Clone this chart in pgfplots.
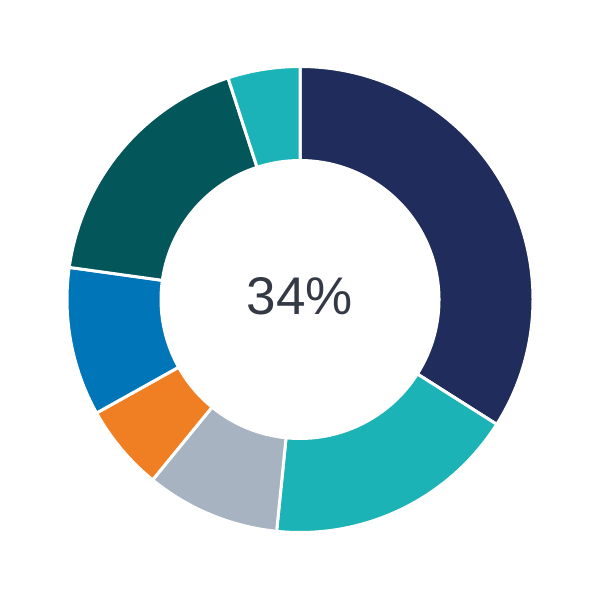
\documentclass[border=0pt]{standalone}
\usepackage{fontspec}
\setmainfont{Liberation Sans}
\usepackage{pgfplots}
\pgfplotsset{compat=1.18}

\definecolor{cNavy}{HTML}{1F2C5C}
\definecolor{cTeal}{HTML}{1BB3B5}
\definecolor{cGray}{HTML}{A8B3C1}
\definecolor{cOrange}{HTML}{F07E23}
\definecolor{cBlue}{HTML}{0075B7}
\definecolor{cGreen}{HTML}{03565A}
\definecolor{cLTeal}{HTML}{1BB3B8}
\definecolor{cText}{HTML}{343A45}

\begin{document}
\begin{tikzpicture}
\begin{axis}[
    hide axis,
    scale only axis,
    width=600pt, height=600pt,
    xmin=-300, xmax=300,
    ymin=-300, ymax=300,
    clip=false,
]
\addplot[draw=none] coordinates {(-300,-300) (300,300)};
% shares in percent, clockwise from 12 o'clock
\foreach \v/\c [remember=\b as \a (initially 0), evaluate=\v as \b using \a+\v] in
    {34/cNavy, 17.6/cTeal, 9.3/cGray, 6.0/cOrange, 10.3/cBlue, 17.8/cGreen, 5.0/cLTeal} {
  \pgfmathsetmacro\sa{90-3.6*\a}
  \pgfmathsetmacro\ea{90-3.6*\b}
  \edef\temp{\noexpand\fill[\c, draw=white, line width=3pt, shift={(axis cs:0,0.5)}]
    (\sa:233pt) arc[start angle=\sa, end angle=\ea, radius=233pt]
    -- (\ea:139pt) arc[start angle=\ea, end angle=\sa, radius=139pt] -- cycle;}
  \temp
}
\node[font=\fontsize{53}{60}\selectfont, text=cText] at (axis cs:0,4) {34\%};
\end{axis}
\end{tikzpicture}
\end{document}
